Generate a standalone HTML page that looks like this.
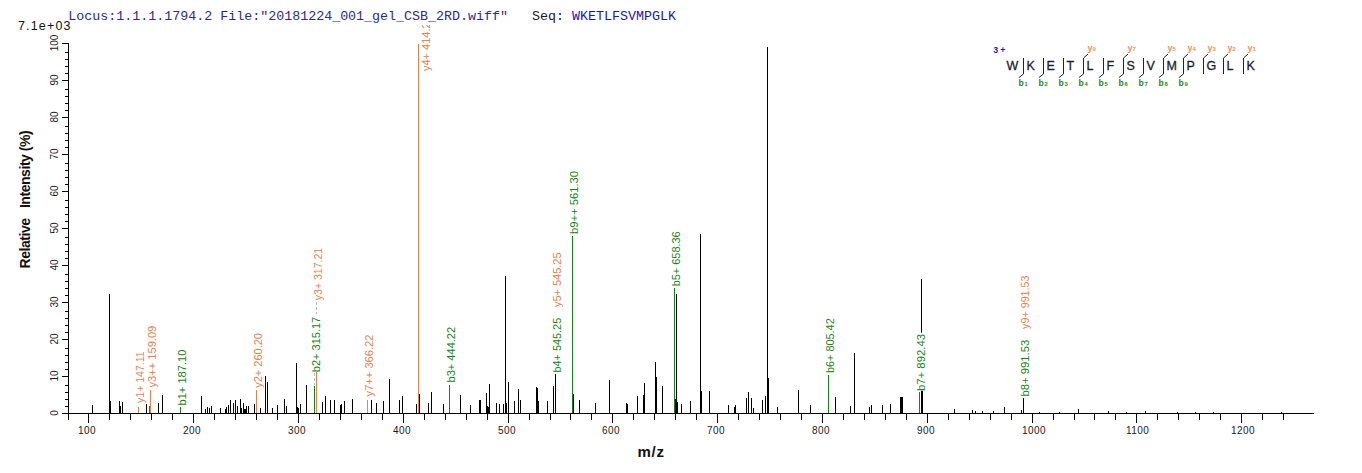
<!DOCTYPE html>
<html><head><meta charset="utf-8"><title>Spectrum</title>
<style>html,body{margin:0;padding:0;background:#fff;width:1362px;height:473px;overflow:hidden}</style>
</head><body>
<svg width="1362" height="473" viewBox="0 0 1362 473" style="display:block">
<defs><clipPath id="plotclip"><rect x="0" y="25" width="1362" height="448"/></clipPath></defs>
<text x="68.2" y="20" font-family="Liberation Mono, monospace" font-size="13.33" fill="#2a2a98" xml:space="preserve" style="white-space:pre">Locus:1.1.1.1794.2 File:"20181224_001_gel_CSB_2RD.wiff"   <tspan fill="#1a1a1a">Seq:</tspan> <tspan fill="#1818b8">WKETLFSVMPGLK</tspan></text>
<text x="18" y="30" font-family="Liberation Sans, sans-serif" font-size="12.5" letter-spacing="1.15" fill="#111">7.1e+03</text>
<g shape-rendering="crispEdges" stroke="#000" stroke-width="1">
<line x1="68.5" y1="43" x2="68.5" y2="414"/>
<line x1="62" y1="413.5" x2="1314" y2="413.5"/>
<line x1="62" y1="413.5" x2="68" y2="413.5"/>
<line x1="65" y1="406.5" x2="68" y2="406.5"/>
<line x1="65" y1="399.5" x2="68" y2="399.5"/>
<line x1="65" y1="392.5" x2="68" y2="392.5"/>
<line x1="65" y1="385.5" x2="68" y2="385.5"/>
<line x1="62" y1="376.5" x2="68" y2="376.5"/>
<line x1="65" y1="369.5" x2="68" y2="369.5"/>
<line x1="65" y1="362.5" x2="68" y2="362.5"/>
<line x1="65" y1="355.5" x2="68" y2="355.5"/>
<line x1="65" y1="348.5" x2="68" y2="348.5"/>
<line x1="62" y1="339.5" x2="68" y2="339.5"/>
<line x1="65" y1="332.5" x2="68" y2="332.5"/>
<line x1="65" y1="325.5" x2="68" y2="325.5"/>
<line x1="65" y1="318.5" x2="68" y2="318.5"/>
<line x1="65" y1="311.5" x2="68" y2="311.5"/>
<line x1="62" y1="302.5" x2="68" y2="302.5"/>
<line x1="65" y1="295.5" x2="68" y2="295.5"/>
<line x1="65" y1="288.5" x2="68" y2="288.5"/>
<line x1="65" y1="281.5" x2="68" y2="281.5"/>
<line x1="65" y1="274.5" x2="68" y2="274.5"/>
<line x1="62" y1="265.5" x2="68" y2="265.5"/>
<line x1="65" y1="258.5" x2="68" y2="258.5"/>
<line x1="65" y1="251.5" x2="68" y2="251.5"/>
<line x1="65" y1="244.5" x2="68" y2="244.5"/>
<line x1="65" y1="237.5" x2="68" y2="237.5"/>
<line x1="62" y1="228.5" x2="68" y2="228.5"/>
<line x1="65" y1="221.5" x2="68" y2="221.5"/>
<line x1="65" y1="214.5" x2="68" y2="214.5"/>
<line x1="65" y1="207.5" x2="68" y2="207.5"/>
<line x1="65" y1="200.5" x2="68" y2="200.5"/>
<line x1="62" y1="191.5" x2="68" y2="191.5"/>
<line x1="65" y1="184.5" x2="68" y2="184.5"/>
<line x1="65" y1="177.5" x2="68" y2="177.5"/>
<line x1="65" y1="170.5" x2="68" y2="170.5"/>
<line x1="65" y1="163.5" x2="68" y2="163.5"/>
<line x1="62" y1="154.5" x2="68" y2="154.5"/>
<line x1="65" y1="147.5" x2="68" y2="147.5"/>
<line x1="65" y1="140.5" x2="68" y2="140.5"/>
<line x1="65" y1="133.5" x2="68" y2="133.5"/>
<line x1="65" y1="126.5" x2="68" y2="126.5"/>
<line x1="62" y1="117.5" x2="68" y2="117.5"/>
<line x1="65" y1="110.5" x2="68" y2="110.5"/>
<line x1="65" y1="103.5" x2="68" y2="103.5"/>
<line x1="65" y1="96.5" x2="68" y2="96.5"/>
<line x1="65" y1="89.5" x2="68" y2="89.5"/>
<line x1="62" y1="80.5" x2="68" y2="80.5"/>
<line x1="65" y1="73.5" x2="68" y2="73.5"/>
<line x1="65" y1="66.5" x2="68" y2="66.5"/>
<line x1="65" y1="59.5" x2="68" y2="59.5"/>
<line x1="65" y1="52.5" x2="68" y2="52.5"/>
<line x1="62" y1="43.5" x2="68" y2="43.5"/>
<line x1="68.5" y1="414" x2="68.5" y2="420"/>
<line x1="88.5" y1="414" x2="88.5" y2="423"/>
<line x1="109.5" y1="414" x2="109.5" y2="420"/>
<line x1="130.5" y1="414" x2="130.5" y2="420"/>
<line x1="151.5" y1="414" x2="151.5" y2="420"/>
<line x1="172.5" y1="414" x2="172.5" y2="420"/>
<line x1="193.5" y1="414" x2="193.5" y2="423"/>
<line x1="214.5" y1="414" x2="214.5" y2="420"/>
<line x1="235.5" y1="414" x2="235.5" y2="420"/>
<line x1="256.5" y1="414" x2="256.5" y2="420"/>
<line x1="277.5" y1="414" x2="277.5" y2="420"/>
<line x1="298.5" y1="414" x2="298.5" y2="423"/>
<line x1="319.5" y1="414" x2="319.5" y2="420"/>
<line x1="340.5" y1="414" x2="340.5" y2="420"/>
<line x1="361.5" y1="414" x2="361.5" y2="420"/>
<line x1="382.5" y1="414" x2="382.5" y2="420"/>
<line x1="403.5" y1="414" x2="403.5" y2="423"/>
<line x1="424.5" y1="414" x2="424.5" y2="420"/>
<line x1="445.5" y1="414" x2="445.5" y2="420"/>
<line x1="466.5" y1="414" x2="466.5" y2="420"/>
<line x1="487.5" y1="414" x2="487.5" y2="420"/>
<line x1="508.5" y1="414" x2="508.5" y2="423"/>
<line x1="529.5" y1="414" x2="529.5" y2="420"/>
<line x1="550.5" y1="414" x2="550.5" y2="420"/>
<line x1="570.5" y1="414" x2="570.5" y2="420"/>
<line x1="591.5" y1="414" x2="591.5" y2="420"/>
<line x1="612.5" y1="414" x2="612.5" y2="423"/>
<line x1="633.5" y1="414" x2="633.5" y2="420"/>
<line x1="654.5" y1="414" x2="654.5" y2="420"/>
<line x1="675.5" y1="414" x2="675.5" y2="420"/>
<line x1="696.5" y1="414" x2="696.5" y2="420"/>
<line x1="717.5" y1="414" x2="717.5" y2="423"/>
<line x1="738.5" y1="414" x2="738.5" y2="420"/>
<line x1="759.5" y1="414" x2="759.5" y2="420"/>
<line x1="780.5" y1="414" x2="780.5" y2="420"/>
<line x1="801.5" y1="414" x2="801.5" y2="420"/>
<line x1="822.5" y1="414" x2="822.5" y2="423"/>
<line x1="843.5" y1="414" x2="843.5" y2="420"/>
<line x1="864.5" y1="414" x2="864.5" y2="420"/>
<line x1="885.5" y1="414" x2="885.5" y2="420"/>
<line x1="906.5" y1="414" x2="906.5" y2="420"/>
<line x1="927.5" y1="414" x2="927.5" y2="423"/>
<line x1="948.5" y1="414" x2="948.5" y2="420"/>
<line x1="969.5" y1="414" x2="969.5" y2="420"/>
<line x1="990.5" y1="414" x2="990.5" y2="420"/>
<line x1="1011.5" y1="414" x2="1011.5" y2="420"/>
<line x1="1032.5" y1="414" x2="1032.5" y2="423"/>
<line x1="1053.5" y1="414" x2="1053.5" y2="420"/>
<line x1="1074.5" y1="414" x2="1074.5" y2="420"/>
<line x1="1094.5" y1="414" x2="1094.5" y2="420"/>
<line x1="1115.5" y1="414" x2="1115.5" y2="420"/>
<line x1="1136.5" y1="414" x2="1136.5" y2="423"/>
<line x1="1157.5" y1="414" x2="1157.5" y2="420"/>
<line x1="1178.5" y1="414" x2="1178.5" y2="420"/>
<line x1="1199.5" y1="414" x2="1199.5" y2="420"/>
<line x1="1220.5" y1="414" x2="1220.5" y2="420"/>
<line x1="1241.5" y1="414" x2="1241.5" y2="423"/>
<line x1="1262.5" y1="414" x2="1262.5" y2="420"/>
<line x1="1283.5" y1="414" x2="1283.5" y2="420"/>
</g>
<g font-family="Liberation Sans, sans-serif" font-size="10" fill="#1a1a1a">
<text x="77.9" y="433.6" letter-spacing="0.5">100</text>
<text x="182.9" y="433.6" letter-spacing="0.5">200</text>
<text x="287.9" y="433.6" letter-spacing="0.5">300</text>
<text x="392.9" y="433.6" letter-spacing="0.5">400</text>
<text x="497.9" y="433.6" letter-spacing="0.5">500</text>
<text x="601.9" y="433.6" letter-spacing="0.5">600</text>
<text x="706.9" y="433.6" letter-spacing="0.5">700</text>
<text x="811.9" y="433.6" letter-spacing="0.5">800</text>
<text x="916.9" y="433.6" letter-spacing="0.5">900</text>
<text x="1021.9" y="433.6" letter-spacing="0.5">1000</text>
<text x="1125.9" y="433.6" letter-spacing="0.5">1100</text>
<text x="1230.9" y="433.6" letter-spacing="0.5">1200</text>
<text transform="translate(58,413.0) rotate(-90)" text-anchor="middle">0</text>
<text transform="translate(58,376.0) rotate(-90)" text-anchor="middle">10</text>
<text transform="translate(58,339.0) rotate(-90)" text-anchor="middle">20</text>
<text transform="translate(58,302.0) rotate(-90)" text-anchor="middle">30</text>
<text transform="translate(58,265.0) rotate(-90)" text-anchor="middle">40</text>
<text transform="translate(58,228.0) rotate(-90)" text-anchor="middle">50</text>
<text transform="translate(58,191.0) rotate(-90)" text-anchor="middle">60</text>
<text transform="translate(58,154.0) rotate(-90)" text-anchor="middle">70</text>
<text transform="translate(58,117.0) rotate(-90)" text-anchor="middle">80</text>
<text transform="translate(58,80.0) rotate(-90)" text-anchor="middle">90</text>
<text transform="translate(58,43.0) rotate(-90)" text-anchor="middle">100</text>
</g>
<text transform="translate(29.5,268.5) rotate(-90)" font-family="Liberation Sans, sans-serif" font-weight="bold" font-size="14" letter-spacing="-0.45" fill="#111" xml:space="preserve" style="white-space:pre">Relative   Intensity (%)</text>
<text x="637.5" y="457" font-family="Liberation Sans, sans-serif" font-weight="bold" font-size="15" fill="#111" letter-spacing="0.7">m/z</text>
<g shape-rendering="crispEdges" stroke-width="1">
<rect x="92" y="405" width="1" height="8" fill="#000000"/>
<rect x="109" y="294" width="1" height="119" fill="#000000"/>
<rect x="110" y="401" width="1" height="12" fill="#000000"/>
<rect x="119" y="401" width="1" height="12" fill="#000000"/>
<rect x="120" y="406" width="1" height="7" fill="#000000"/>
<rect x="122" y="402" width="1" height="11" fill="#000000"/>
<rect x="138" y="407" width="1" height="6" fill="#e8804c"/>
<rect x="146" y="404" width="1" height="9" fill="#000000"/>
<rect x="149" y="406" width="1" height="7" fill="#158315"/>
<rect x="150" y="390" width="1" height="23" fill="#e8804c"/>
<rect x="158" y="403" width="1" height="10" fill="#000000"/>
<rect x="162" y="395" width="1" height="18" fill="#000000"/>
<rect x="180" y="407" width="1" height="6" fill="#158315"/>
<rect x="201" y="396" width="1" height="17" fill="#000000"/>
<rect x="205" y="409" width="1" height="4" fill="#000000"/>
<rect x="207" y="407" width="1" height="6" fill="#000000"/>
<rect x="209" y="408" width="1" height="5" fill="#000000"/>
<rect x="211" y="406" width="1" height="7" fill="#000000"/>
<rect x="220" y="408" width="1" height="5" fill="#000000"/>
<rect x="225" y="409" width="1" height="4" fill="#000000"/>
<rect x="226" y="407" width="1" height="6" fill="#000000"/>
<rect x="228" y="405" width="1" height="8" fill="#000000"/>
<rect x="230" y="400" width="1" height="13" fill="#000000"/>
<rect x="233" y="403" width="1" height="10" fill="#000000"/>
<rect x="235" y="400" width="1" height="13" fill="#000000"/>
<rect x="237" y="406" width="1" height="7" fill="#000000"/>
<rect x="240" y="399" width="1" height="14" fill="#000000"/>
<rect x="241" y="408" width="1" height="5" fill="#000000"/>
<rect x="243" y="403" width="1" height="10" fill="#000000"/>
<rect x="244" y="409" width="1" height="4" fill="#000000"/>
<rect x="245" y="409" width="1" height="4" fill="#000000"/>
<rect x="246" y="406" width="1" height="7" fill="#000000"/>
<rect x="248" y="406" width="1" height="7" fill="#000000"/>
<rect x="254" y="404" width="1" height="9" fill="#000000"/>
<rect x="256" y="390" width="1" height="23" fill="#e8804c"/>
<rect x="260" y="408" width="1" height="5" fill="#000000"/>
<rect x="265" y="376" width="1" height="37" fill="#000000"/>
<rect x="267" y="382" width="1" height="31" fill="#000000"/>
<rect x="272" y="408" width="1" height="5" fill="#000000"/>
<rect x="277" y="405" width="1" height="8" fill="#000000"/>
<rect x="284" y="399" width="1" height="14" fill="#000000"/>
<rect x="286" y="406" width="1" height="7" fill="#000000"/>
<rect x="296" y="363" width="1" height="50" fill="#000000"/>
<rect x="297" y="407" width="1" height="6" fill="#000000"/>
<rect x="298" y="408" width="1" height="5" fill="#000000"/>
<rect x="300" y="404" width="1" height="9" fill="#000000"/>
<rect x="306" y="385" width="1" height="28" fill="#000000"/>
<rect x="314" y="386" width="1" height="27" fill="#158315"/>
<rect x="316" y="371" width="1" height="42" fill="#e8804c"/>
<rect x="322" y="402" width="1" height="11" fill="#000000"/>
<rect x="325" y="396" width="1" height="17" fill="#000000"/>
<rect x="330" y="400" width="1" height="13" fill="#000000"/>
<rect x="334" y="400" width="1" height="13" fill="#000000"/>
<rect x="340" y="405" width="1" height="8" fill="#000000"/>
<rect x="341" y="404" width="1" height="9" fill="#000000"/>
<rect x="344" y="401" width="1" height="12" fill="#000000"/>
<rect x="352" y="399" width="1" height="14" fill="#000000"/>
<rect x="367" y="400" width="1" height="13" fill="#e8804c"/>
<rect x="371" y="400" width="1" height="13" fill="#000000"/>
<rect x="376" y="403" width="1" height="10" fill="#000000"/>
<rect x="383" y="401" width="1" height="12" fill="#000000"/>
<rect x="389" y="379" width="1" height="34" fill="#000000"/>
<rect x="399" y="400" width="1" height="13" fill="#000000"/>
<rect x="402" y="396" width="1" height="17" fill="#000000"/>
<rect x="416" y="404" width="1" height="9" fill="#000000"/>
<rect x="418" y="44" width="1" height="369" fill="#e8804c"/>
<rect x="419" y="394" width="1" height="19" fill="#000000"/>
<rect x="428" y="403" width="1" height="10" fill="#000000"/>
<rect x="431" y="392" width="1" height="21" fill="#000000"/>
<rect x="443" y="404" width="1" height="9" fill="#000000"/>
<rect x="449" y="385" width="1" height="28" fill="#158315"/>
<rect x="460" y="395" width="1" height="18" fill="#000000"/>
<rect x="470" y="405" width="1" height="8" fill="#000000"/>
<rect x="479" y="400" width="1" height="13" fill="#000000"/>
<rect x="480" y="400" width="1" height="13" fill="#000000"/>
<rect x="486" y="393" width="1" height="20" fill="#000000"/>
<rect x="487" y="406" width="1" height="7" fill="#000000"/>
<rect x="488" y="407" width="1" height="6" fill="#000000"/>
<rect x="489" y="384" width="1" height="29" fill="#000000"/>
<rect x="496" y="403" width="1" height="10" fill="#000000"/>
<rect x="499" y="404" width="1" height="9" fill="#000000"/>
<rect x="503" y="404" width="1" height="9" fill="#000000"/>
<rect x="505" y="276" width="1" height="137" fill="#000000"/>
<rect x="506" y="403" width="1" height="10" fill="#000000"/>
<rect x="508" y="382" width="1" height="31" fill="#000000"/>
<rect x="514" y="401" width="1" height="12" fill="#000000"/>
<rect x="518" y="389" width="1" height="24" fill="#000000"/>
<rect x="520" y="400" width="1" height="13" fill="#000000"/>
<rect x="536" y="387" width="1" height="26" fill="#000000"/>
<rect x="537" y="388" width="1" height="25" fill="#000000"/>
<rect x="538" y="401" width="1" height="12" fill="#000000"/>
<rect x="547" y="401" width="1" height="12" fill="#000000"/>
<rect x="553" y="386" width="1" height="27" fill="#000000"/>
<rect x="555" y="374" width="1" height="39" fill="#000000"/>
<rect x="572" y="236" width="1" height="177" fill="#158315"/>
<rect x="573" y="394" width="1" height="19" fill="#000000"/>
<rect x="579" y="400" width="1" height="13" fill="#000000"/>
<rect x="595" y="403" width="1" height="10" fill="#000000"/>
<rect x="609" y="380" width="1" height="33" fill="#000000"/>
<rect x="626" y="403" width="1" height="10" fill="#000000"/>
<rect x="627" y="404" width="1" height="9" fill="#000000"/>
<rect x="637" y="396" width="1" height="17" fill="#000000"/>
<rect x="643" y="395" width="1" height="18" fill="#000000"/>
<rect x="644" y="383" width="1" height="30" fill="#000000"/>
<rect x="655" y="362" width="1" height="51" fill="#000000"/>
<rect x="656" y="377" width="1" height="36" fill="#000000"/>
<rect x="662" y="386" width="1" height="27" fill="#000000"/>
<rect x="674" y="288" width="1" height="125" fill="#158315"/>
<rect x="676" y="294" width="1" height="119" fill="#000000"/>
<rect x="675" y="399" width="1" height="14" fill="#000000"/>
<rect x="677" y="402" width="1" height="11" fill="#000000"/>
<rect x="681" y="404" width="1" height="9" fill="#000000"/>
<rect x="690" y="401" width="1" height="12" fill="#000000"/>
<rect x="700" y="234" width="1" height="179" fill="#000000"/>
<rect x="701" y="391" width="1" height="22" fill="#000000"/>
<rect x="709" y="391" width="1" height="22" fill="#000000"/>
<rect x="728" y="405" width="1" height="8" fill="#000000"/>
<rect x="734" y="407" width="1" height="6" fill="#000000"/>
<rect x="735" y="405" width="1" height="8" fill="#000000"/>
<rect x="746" y="398" width="1" height="15" fill="#000000"/>
<rect x="748" y="392" width="1" height="21" fill="#000000"/>
<rect x="751" y="398" width="1" height="15" fill="#000000"/>
<rect x="753" y="408" width="1" height="5" fill="#000000"/>
<rect x="762" y="400" width="1" height="13" fill="#000000"/>
<rect x="765" y="396" width="1" height="17" fill="#000000"/>
<rect x="767" y="47" width="1" height="366" fill="#000000"/>
<rect x="768" y="378" width="1" height="35" fill="#000000"/>
<rect x="777" y="407" width="1" height="6" fill="#000000"/>
<rect x="798" y="390" width="1" height="23" fill="#000000"/>
<rect x="810" y="405" width="1" height="8" fill="#000000"/>
<rect x="828" y="375" width="1" height="38" fill="#158315"/>
<rect x="835" y="397" width="1" height="16" fill="#000000"/>
<rect x="850" y="406" width="1" height="7" fill="#000000"/>
<rect x="854" y="353" width="1" height="60" fill="#000000"/>
<rect x="869" y="407" width="1" height="6" fill="#000000"/>
<rect x="871" y="405" width="1" height="8" fill="#000000"/>
<rect x="882" y="405" width="1" height="8" fill="#000000"/>
<rect x="890" y="404" width="1" height="9" fill="#000000"/>
<rect x="900" y="397" width="1" height="16" fill="#000000"/>
<rect x="901" y="397" width="1" height="16" fill="#000000"/>
<rect x="902" y="397" width="1" height="16" fill="#000000"/>
<rect x="919" y="392" width="1" height="21" fill="#158315"/>
<rect x="922" y="390" width="1" height="23" fill="#000000"/>
<rect x="921" y="279" width="1" height="134" fill="#000000"/>
<rect x="954" y="409" width="1" height="4" fill="#000000"/>
<rect x="972" y="410" width="1" height="3" fill="#000000"/>
<rect x="975" y="411" width="1" height="2" fill="#000000"/>
<rect x="982" y="411" width="1" height="2" fill="#000000"/>
<rect x="993" y="411" width="1" height="2" fill="#000000"/>
<rect x="1004" y="407" width="1" height="6" fill="#000000"/>
<rect x="1021" y="410" width="1" height="3" fill="#000000"/>
<rect x="1023" y="398" width="1" height="15" fill="#000000"/>
<rect x="1039" y="412" width="1" height="1" fill="#000000"/>
<rect x="1059" y="412" width="1" height="1" fill="#000000"/>
<rect x="1078" y="409" width="1" height="4" fill="#000000"/>
<rect x="1108" y="411" width="1" height="2" fill="#000000"/>
<rect x="1126" y="412" width="1" height="1" fill="#000000"/>
<rect x="1145" y="411" width="1" height="2" fill="#000000"/>
<rect x="1177" y="412" width="1" height="1" fill="#000000"/>
<rect x="1195" y="412" width="1" height="1" fill="#000000"/>
<rect x="1213" y="412" width="1" height="1" fill="#000000"/>
<rect x="1281" y="412" width="1" height="1" fill="#000000"/>
</g>
<g font-family="Liberation Sans, sans-serif" font-size="10.3">
<rect x="134.1" y="350.1" width="12" height="52.7" fill="#fff"/>
<text transform="translate(143.6,403.0) rotate(-90)" fill="#e8804c" textLength="51.7" lengthAdjust="spacingAndGlyphs">y1+ 147.11</text>
<rect x="146.1" y="324.5" width="12" height="62.8" fill="#fff"/>
<text transform="translate(155.6,387.5) rotate(-90)" fill="#e8804c" textLength="61.8" lengthAdjust="spacingAndGlyphs">y3++ 159.09</text>
<rect x="176.1" y="348.4" width="12" height="56.9" fill="#fff"/>
<text transform="translate(185.6,405.5) rotate(-90)" fill="#158315" textLength="55.9" lengthAdjust="spacingAndGlyphs">b1+ 187.10</text>
<rect x="252.1" y="331.8" width="12" height="55.8" fill="#fff"/>
<text transform="translate(261.6,387.8) rotate(-90)" fill="#e8804c" textLength="54.8" lengthAdjust="spacingAndGlyphs">y2+ 260.20</text>
<rect x="310.1" y="315.6" width="12" height="56.4" fill="#fff"/>
<text transform="translate(319.6,372.2) rotate(-90)" fill="#158315" textLength="55.4" lengthAdjust="spacingAndGlyphs">b2+ 315.17</text>
<rect x="312.1" y="246.7" width="12" height="53.3" fill="#fff"/>
<text transform="translate(321.6,300.2) rotate(-90)" fill="#e8804c" textLength="52.3" lengthAdjust="spacingAndGlyphs">y3+ 317.21</text>
<rect x="363.1" y="333.4" width="12" height="62.8" fill="#fff"/>
<text transform="translate(372.6,396.4) rotate(-90)" fill="#e8804c" textLength="61.8" lengthAdjust="spacingAndGlyphs">y7++ 366.22</text>
<rect x="445.1" y="325.7" width="12" height="56.5" fill="#fff"/>
<text transform="translate(454.6,382.4) rotate(-90)" fill="#158315" textLength="55.5" lengthAdjust="spacingAndGlyphs">b3+ 444.22</text>
<rect x="551.1" y="316.6" width="12" height="55.8" fill="#fff"/>
<text transform="translate(560.6,372.6) rotate(-90)" fill="#158315" textLength="54.8" lengthAdjust="spacingAndGlyphs">b4+ 545.25</text>
<rect x="551.1" y="251.2" width="12" height="55.7" fill="#fff"/>
<text transform="translate(560.6,307.1) rotate(-90)" fill="#e8804c" textLength="54.7" lengthAdjust="spacingAndGlyphs">y5+ 545.25</text>
<rect x="568.1" y="169.7" width="12" height="64.2" fill="#fff"/>
<text transform="translate(577.6,234.1) rotate(-90)" fill="#158315" textLength="63.2" lengthAdjust="spacingAndGlyphs">b9++ 561.30</text>
<rect x="670.1" y="230.1" width="12" height="56.0" fill="#fff"/>
<text transform="translate(679.6,286.3) rotate(-90)" fill="#158315" textLength="55.0" lengthAdjust="spacingAndGlyphs">b5+ 658.36</text>
<rect x="824.1" y="317.1" width="12" height="55.8" fill="#fff"/>
<text transform="translate(833.6,373.1) rotate(-90)" fill="#158315" textLength="54.8" lengthAdjust="spacingAndGlyphs">b6+ 805.42</text>
<rect x="915.1" y="332.8" width="12" height="58.0" fill="#fff"/>
<text transform="translate(924.6,391.0) rotate(-90)" fill="#158315" textLength="57.0" lengthAdjust="spacingAndGlyphs">b7+ 892.43</text>
<rect x="1019.1" y="338.6" width="12" height="57.7" fill="#fff"/>
<text transform="translate(1028.6,396.5) rotate(-90)" fill="#158315" textLength="56.7" lengthAdjust="spacingAndGlyphs">b8+ 991.53</text>
<rect x="1019.1" y="274.3" width="12" height="54.4" fill="#fff"/>
<text transform="translate(1028.6,328.9) rotate(-90)" fill="#e8804c" textLength="53.4" lengthAdjust="spacingAndGlyphs">y9+ 991.53</text>
<line x1="316.5" y1="302" x2="316.5" y2="314" stroke="#b8b8b8" stroke-dasharray="3,2" shape-rendering="crispEdges"/>
<line x1="314.5" y1="373" x2="314.5" y2="385" stroke="#b8b8b8" stroke-dasharray="3,2" shape-rendering="crispEdges"/>
</g>
<g clip-path="url(#plotclip)"><text transform="translate(429.5,71) rotate(-90)" font-family="Liberation Sans, sans-serif" font-size="11" fill="#e8804c">y4+ 414.27</text></g>
<text x="993.3" y="52.8" font-family="Liberation Sans, sans-serif" font-weight="bold" font-size="8.8" letter-spacing="2.0" fill="#1a1ab4">3+</text>
<g font-family="Liberation Sans, sans-serif" font-size="12.5" fill="#1c1c2c" stroke="#1c1c2c" stroke-width="0.3">
<text x="1006.5" y="69.8">W</text>
<text x="1026.5" y="69.8">K</text>
<text x="1046.5" y="69.8">E</text>
<text x="1066.5" y="69.8">T</text>
<text x="1086.5" y="69.8">L</text>
<text x="1106.5" y="69.8">F</text>
<text x="1126.5" y="69.8">S</text>
<text x="1146.5" y="69.8">V</text>
<text x="1166.5" y="69.8">M</text>
<text x="1186.5" y="69.8">P</text>
<text x="1206.5" y="69.8">G</text>
<text x="1226.5" y="69.8">L</text>
<text x="1246.5" y="69.8">K</text>
</g>
<g stroke="#222" stroke-width="1" fill="none">
<line x1="1023.5" y1="58" x2="1023.5" y2="74" shape-rendering="crispEdges"/>
<line x1="1023.5" y1="74" x2="1018.9" y2="77.6"/>
<line x1="1043.5" y1="58" x2="1043.5" y2="74" shape-rendering="crispEdges"/>
<line x1="1043.5" y1="74" x2="1038.9" y2="77.6"/>
<line x1="1063.5" y1="58" x2="1063.5" y2="74" shape-rendering="crispEdges"/>
<line x1="1063.5" y1="74" x2="1058.9" y2="77.6"/>
<line x1="1083.5" y1="58" x2="1083.5" y2="74" shape-rendering="crispEdges"/>
<line x1="1083.5" y1="74" x2="1078.9" y2="77.6"/>
<line x1="1083.5" y1="58" x2="1088.0" y2="54"/>
<line x1="1103.5" y1="58" x2="1103.5" y2="74" shape-rendering="crispEdges"/>
<line x1="1103.5" y1="74" x2="1098.9" y2="77.6"/>
<line x1="1123.5" y1="58" x2="1123.5" y2="74" shape-rendering="crispEdges"/>
<line x1="1123.5" y1="74" x2="1118.9" y2="77.6"/>
<line x1="1123.5" y1="58" x2="1128.0" y2="54"/>
<line x1="1143.5" y1="58" x2="1143.5" y2="74" shape-rendering="crispEdges"/>
<line x1="1143.5" y1="74" x2="1138.9" y2="77.6"/>
<line x1="1163.5" y1="58" x2="1163.5" y2="74" shape-rendering="crispEdges"/>
<line x1="1163.5" y1="74" x2="1158.9" y2="77.6"/>
<line x1="1163.5" y1="58" x2="1168.0" y2="54"/>
<line x1="1183.5" y1="58" x2="1183.5" y2="74" shape-rendering="crispEdges"/>
<line x1="1183.5" y1="74" x2="1178.9" y2="77.6"/>
<line x1="1183.5" y1="58" x2="1188.0" y2="54"/>
<line x1="1203.5" y1="58" x2="1203.5" y2="74" shape-rendering="crispEdges"/>
<line x1="1203.5" y1="58" x2="1208.0" y2="54"/>
<line x1="1223.5" y1="58" x2="1223.5" y2="74" shape-rendering="crispEdges"/>
<line x1="1223.5" y1="58" x2="1228.0" y2="54"/>
<line x1="1243.5" y1="58" x2="1243.5" y2="74" shape-rendering="crispEdges"/>
<line x1="1243.5" y1="58" x2="1248.0" y2="54"/>
</g>
<text x="1018.6" y="86" font-family="Liberation Sans, sans-serif" font-weight="bold" font-size="8.6" fill="#228a18">b<tspan font-size="5.8" dx="0.6">1</tspan></text>
<text x="1038.6" y="86" font-family="Liberation Sans, sans-serif" font-weight="bold" font-size="8.6" fill="#228a18">b<tspan font-size="5.8" dx="0.6">2</tspan></text>
<text x="1058.6" y="86" font-family="Liberation Sans, sans-serif" font-weight="bold" font-size="8.6" fill="#228a18">b<tspan font-size="5.8" dx="0.6">3</tspan></text>
<text x="1078.6" y="86" font-family="Liberation Sans, sans-serif" font-weight="bold" font-size="8.6" fill="#228a18">b<tspan font-size="5.8" dx="0.6">4</tspan></text>
<text x="1087.5" y="51" font-family="Liberation Sans, sans-serif" font-weight="bold" font-size="9" fill="#ee9060">y<tspan font-size="6">9</tspan></text>
<text x="1098.6" y="86" font-family="Liberation Sans, sans-serif" font-weight="bold" font-size="8.6" fill="#228a18">b<tspan font-size="5.8" dx="0.6">5</tspan></text>
<text x="1118.6" y="86" font-family="Liberation Sans, sans-serif" font-weight="bold" font-size="8.6" fill="#228a18">b<tspan font-size="5.8" dx="0.6">6</tspan></text>
<text x="1127.5" y="51" font-family="Liberation Sans, sans-serif" font-weight="bold" font-size="9" fill="#ee9060">y<tspan font-size="6">7</tspan></text>
<text x="1138.6" y="86" font-family="Liberation Sans, sans-serif" font-weight="bold" font-size="8.6" fill="#228a18">b<tspan font-size="5.8" dx="0.6">7</tspan></text>
<text x="1158.6" y="86" font-family="Liberation Sans, sans-serif" font-weight="bold" font-size="8.6" fill="#228a18">b<tspan font-size="5.8" dx="0.6">8</tspan></text>
<text x="1167.5" y="51" font-family="Liberation Sans, sans-serif" font-weight="bold" font-size="9" fill="#ee9060">y<tspan font-size="6">5</tspan></text>
<text x="1178.6" y="86" font-family="Liberation Sans, sans-serif" font-weight="bold" font-size="8.6" fill="#228a18">b<tspan font-size="5.8" dx="0.6">9</tspan></text>
<text x="1187.5" y="51" font-family="Liberation Sans, sans-serif" font-weight="bold" font-size="9" fill="#ee9060">y<tspan font-size="6">4</tspan></text>
<text x="1207.5" y="51" font-family="Liberation Sans, sans-serif" font-weight="bold" font-size="9" fill="#ee9060">y<tspan font-size="6">3</tspan></text>
<text x="1227.5" y="51" font-family="Liberation Sans, sans-serif" font-weight="bold" font-size="9" fill="#ee9060">y<tspan font-size="6">2</tspan></text>
<text x="1247.5" y="51" font-family="Liberation Sans, sans-serif" font-weight="bold" font-size="9" fill="#ee9060">y<tspan font-size="6">1</tspan></text>
</svg>
</body></html>
